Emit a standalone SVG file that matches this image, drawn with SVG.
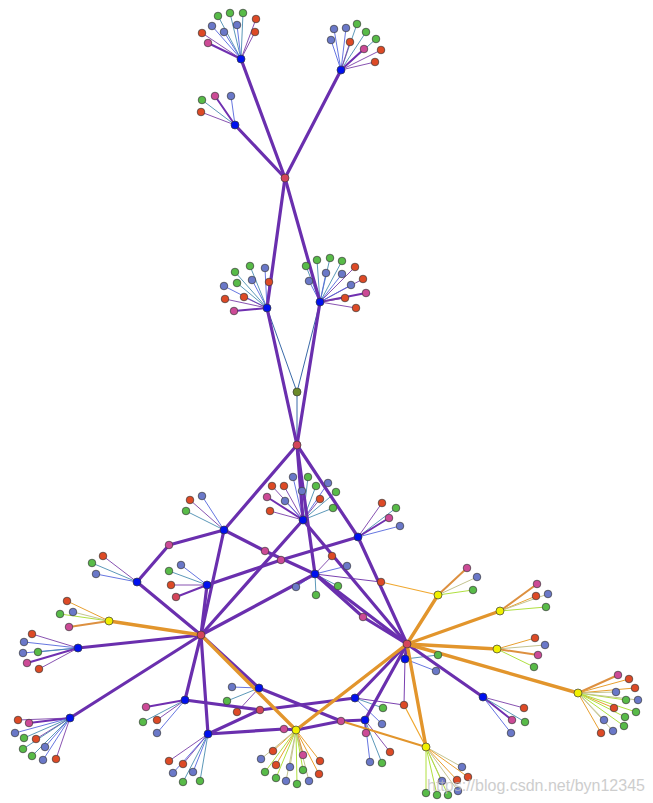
<svg xmlns="http://www.w3.org/2000/svg" width="653" height="803" viewBox="0 0 653 803">
<style>
line{fill:none;stroke-linecap:round}
.P{stroke:#6a2fae;stroke-width:3.2}
.O{stroke:#e2952c;stroke-width:3.4}
.lb{stroke:#5566dd;stroke-width:0.9}
.lg{stroke:#4a8cb0;stroke-width:0.9}
.lr{stroke:#7a3fa8;stroke-width:0.9}
.lm{stroke:#7030b0;stroke-width:2}
.yr{stroke:#e8a030;stroke-width:1}
.yg{stroke:#b0e040;stroke-width:1}
.yb{stroke:#c4c490;stroke-width:1}
.ym{stroke:#dd9040;stroke-width:2}
.tb{stroke:#3a6aa8;stroke-width:1}
.tp{stroke:#7a40b0;stroke-width:1}
.to{stroke:#f0a830;stroke-width:1.2}
.mo{stroke:#e2952c;stroke-width:2}
circle{stroke:#3a3a3a;stroke-width:0.7}
.nb{fill:#6a78c8}.ng{fill:#58bb48}.nr{fill:#dd4a26}.nm{fill:#cc4a96}
.nh{fill:#0010ee}.nc{fill:#d4455a}.ny{fill:#f0f000}.no{fill:#6a8a2a}
.wm{font-family:"Liberation Sans",Arial,sans-serif;font-size:16px;fill:#bdbdbd;opacity:0.75}
</style>
<g id="connectors">
<!-- thin links -->
<line class="tb" x1="267" y1="308" x2="297" y2="392"/>
<line class="tb" x1="320" y1="302" x2="297" y2="392"/>
<line class="tb" x1="297" y1="392" x2="297" y2="445"/>
<line class="tp" x1="315" y1="574" x2="381" y2="582"/>
<line class="to" x1="381" y1="582" x2="438" y2="595"/>
<line class="tp" x1="405" y1="659" x2="404" y2="705"/>
<line class="tp" x1="355" y1="698" x2="404" y2="705"/>
<line class="to" x1="404" y1="705" x2="426" y2="747"/>
<!-- leaf edges -->
<g>
<line class="lg" x1="241" y1="59" x2="218" y2="16"/><line class="lg" x1="241" y1="59" x2="230" y2="13"/><line class="lg" x1="241" y1="59" x2="243" y2="13"/><line class="lr" x1="241" y1="59" x2="256" y2="19"/><line class="lb" x1="241" y1="59" x2="212" y2="26"/><line class="lb" x1="241" y1="59" x2="224" y2="32"/><line class="lb" x1="241" y1="59" x2="237" y2="25"/><line class="lr" x1="241" y1="59" x2="255" y2="32"/><line class="lr" x1="241" y1="59" x2="202" y2="33"/><line class="lm" x1="241" y1="59" x2="208" y2="43"/>
<line class="lb" x1="341" y1="70" x2="334" y2="29"/><line class="lb" x1="341" y1="70" x2="346" y2="28"/><line class="lg" x1="341" y1="70" x2="357" y2="24"/><line class="lg" x1="341" y1="70" x2="366" y2="32"/><line class="lg" x1="341" y1="70" x2="376" y2="39"/><line class="lb" x1="341" y1="70" x2="331" y2="40"/><line class="lr" x1="341" y1="70" x2="350" y2="42"/><line class="lm" x1="341" y1="70" x2="364" y2="49"/><line class="lr" x1="341" y1="70" x2="381" y2="50"/><line class="lr" x1="341" y1="70" x2="375" y2="62"/>
<line class="lg" x1="235" y1="125" x2="202" y2="100"/><line class="lm" x1="235" y1="125" x2="215" y2="96"/><line class="lb" x1="235" y1="125" x2="231" y2="96"/><line class="lr" x1="235" y1="125" x2="201" y2="112"/>
<line class="lg" x1="267" y1="308" x2="235" y2="272"/><line class="lg" x1="267" y1="308" x2="250" y2="266"/><line class="lb" x1="267" y1="308" x2="265" y2="268"/><line class="lb" x1="267" y1="308" x2="224" y2="286"/><line class="lg" x1="267" y1="308" x2="237" y2="283"/><line class="lb" x1="267" y1="308" x2="252" y2="280"/><line class="lr" x1="267" y1="308" x2="269" y2="282"/><line class="lr" x1="267" y1="308" x2="225" y2="299"/><line class="lr" x1="267" y1="308" x2="244" y2="297"/><line class="lm" x1="267" y1="308" x2="234" y2="311"/>
<line class="lg" x1="320" y1="302" x2="306" y2="266"/><line class="lg" x1="320" y1="302" x2="317" y2="260"/><line class="lg" x1="320" y1="302" x2="330" y2="258"/><line class="lg" x1="320" y1="302" x2="342" y2="261"/><line class="lr" x1="320" y1="302" x2="355" y2="267"/><line class="lb" x1="320" y1="302" x2="309" y2="281"/><line class="lb" x1="320" y1="302" x2="326" y2="273"/><line class="lb" x1="320" y1="302" x2="342" y2="274"/><line class="lr" x1="320" y1="302" x2="363" y2="279"/><line class="lb" x1="320" y1="302" x2="351" y2="285"/><line class="lm" x1="320" y1="302" x2="366" y2="293"/><line class="lr" x1="320" y1="302" x2="345" y2="298"/><line class="lr" x1="320" y1="302" x2="356" y2="308"/>
<line class="lr" x1="224" y1="530" x2="190" y2="500"/><line class="lb" x1="224" y1="530" x2="202" y2="496"/><line class="lg" x1="224" y1="530" x2="186" y2="511"/>
<line class="lb" x1="303" y1="520" x2="293" y2="477"/><line class="lg" x1="303" y1="520" x2="308" y2="477"/><line class="lg" x1="303" y1="520" x2="316" y2="486"/><line class="lb" x1="303" y1="520" x2="328" y2="483"/><line class="lr" x1="303" y1="520" x2="272" y2="486"/><line class="lr" x1="303" y1="520" x2="284" y2="486"/><line class="lm" x1="303" y1="520" x2="267" y2="497"/><line class="lb" x1="303" y1="520" x2="285" y2="501"/><line class="lb" x1="303" y1="520" x2="302" y2="491"/><line class="lr" x1="303" y1="520" x2="320" y2="499"/><line class="lg" x1="303" y1="520" x2="336" y2="492"/><line class="lr" x1="303" y1="520" x2="270" y2="511"/><line class="lg" x1="303" y1="520" x2="333" y2="508"/>
<line class="lr" x1="358" y1="537" x2="382" y2="503"/><line class="lg" x1="358" y1="537" x2="396" y2="508"/><line class="lm" x1="358" y1="537" x2="389" y2="518"/><line class="lb" x1="358" y1="537" x2="400" y2="526"/>
<line class="lb" x1="207" y1="585" x2="181" y2="565"/><line class="lg" x1="207" y1="585" x2="169" y2="571"/><line class="lr" x1="207" y1="585" x2="171" y2="585"/><line class="lm" x1="207" y1="585" x2="176" y2="597"/>
<line class="lr" x1="315" y1="574" x2="332" y2="556"/><line class="lb" x1="315" y1="574" x2="347" y2="566"/><line class="lb" x1="315" y1="574" x2="296" y2="587"/><line class="lg" x1="315" y1="574" x2="338" y2="586"/><line class="lg" x1="315" y1="574" x2="316" y2="595"/>
<line class="lr" x1="137" y1="582" x2="103" y2="556"/><line class="lg" x1="137" y1="582" x2="92" y2="563"/><line class="lb" x1="137" y1="582" x2="96" y2="574"/>
<line class="yr" x1="109" y1="621" x2="67" y2="601"/><line class="yg" x1="109" y1="621" x2="60" y2="614"/><line class="yb" x1="109" y1="621" x2="73" y2="612"/><line class="ym" x1="109" y1="621" x2="69" y2="627"/>
<line class="lr" x1="78" y1="648" x2="32" y2="634"/><line class="lb" x1="78" y1="648" x2="24" y2="642"/><line class="lb" x1="78" y1="648" x2="23" y2="653"/><line class="lg" x1="78" y1="648" x2="38" y2="652"/><line class="lm" x1="78" y1="648" x2="27" y2="663"/><line class="lr" x1="78" y1="648" x2="39" y2="669"/>
<line class="ym" x1="438" y1="595" x2="467" y2="568"/><line class="yb" x1="438" y1="595" x2="477" y2="577"/><line class="yg" x1="438" y1="595" x2="473" y2="590"/>
<line class="ym" x1="500" y1="611" x2="537" y2="584"/><line class="yr" x1="500" y1="611" x2="536" y2="596"/><line class="yb" x1="500" y1="611" x2="548" y2="594"/><line class="yg" x1="500" y1="611" x2="546" y2="607"/>
<line class="yr" x1="497" y1="649" x2="535" y2="638"/><line class="yb" x1="497" y1="649" x2="545" y2="645"/><line class="ym" x1="497" y1="649" x2="538" y2="655"/><line class="yg" x1="497" y1="649" x2="534" y2="667"/>
<line class="lg" x1="405" y1="659" x2="438" y2="655"/><line class="lb" x1="405" y1="659" x2="436" y2="671"/>
<line class="ym" x1="578" y1="693" x2="618" y2="675"/><line class="yr" x1="578" y1="693" x2="629" y2="679"/><line class="yr" x1="578" y1="693" x2="635" y2="688"/><line class="yb" x1="578" y1="693" x2="616" y2="692"/><line class="yg" x1="578" y1="693" x2="626" y2="700"/><line class="yb" x1="578" y1="693" x2="638" y2="700"/><line class="yr" x1="578" y1="693" x2="614" y2="708"/><line class="yg" x1="578" y1="693" x2="636" y2="712"/><line class="yg" x1="578" y1="693" x2="625" y2="717"/><line class="yb" x1="578" y1="693" x2="604" y2="720"/><line class="yb" x1="578" y1="693" x2="613" y2="731"/><line class="yg" x1="578" y1="693" x2="624" y2="726"/><line class="yr" x1="578" y1="693" x2="601" y2="733"/>
<line class="lr" x1="483" y1="697" x2="524" y2="708"/><line class="lm" x1="483" y1="697" x2="512" y2="720"/><line class="lg" x1="483" y1="697" x2="525" y2="722"/><line class="lb" x1="483" y1="697" x2="511" y2="733"/>
<line class="lg" x1="355" y1="698" x2="383" y2="708"/><line class="lb" x1="355" y1="698" x2="382" y2="724"/>
<line class="lm" x1="365" y1="720" x2="366" y2="733"/><line class="lr" x1="365" y1="720" x2="390" y2="752"/><line class="lb" x1="365" y1="720" x2="370" y2="762"/><line class="lg" x1="365" y1="720" x2="382" y2="763"/>
<line class="yb" x1="426" y1="747" x2="462" y2="767"/><line class="yr" x1="426" y1="747" x2="468" y2="777"/><line class="yr" x1="426" y1="747" x2="457" y2="780"/><line class="yb" x1="426" y1="747" x2="442" y2="781"/><line class="yb" x1="426" y1="747" x2="458" y2="791"/><line class="yg" x1="426" y1="747" x2="426" y2="793"/><line class="yg" x1="426" y1="747" x2="437" y2="795"/><line class="yg" x1="426" y1="747" x2="448" y2="795"/>
<line class="lr" x1="70" y1="718" x2="18" y2="720"/><line class="lm" x1="70" y1="718" x2="29" y2="723"/><line class="lb" x1="70" y1="718" x2="15" y2="733"/><line class="lg" x1="70" y1="718" x2="24" y2="738"/><line class="lr" x1="70" y1="718" x2="36" y2="739"/><line class="lg" x1="70" y1="718" x2="23" y2="749"/><line class="lb" x1="70" y1="718" x2="45" y2="747"/><line class="lg" x1="70" y1="718" x2="32" y2="756"/><line class="lb" x1="70" y1="718" x2="43" y2="760"/><line class="lr" x1="70" y1="718" x2="56" y2="759"/>
<line class="lm" x1="185" y1="700" x2="146" y2="707"/><line class="lg" x1="185" y1="700" x2="143" y2="722"/><line class="lr" x1="185" y1="700" x2="157" y2="720"/><line class="lb" x1="185" y1="700" x2="157" y2="733"/>
<line class="lr" x1="208" y1="734" x2="169" y2="761"/><line class="lr" x1="208" y1="734" x2="183" y2="764"/><line class="lb" x1="208" y1="734" x2="173" y2="773"/><line class="lb" x1="208" y1="734" x2="193" y2="772"/><line class="lg" x1="208" y1="734" x2="183" y2="782"/><line class="lg" x1="208" y1="734" x2="200" y2="781"/>
<line class="lb" x1="259" y1="688" x2="232" y2="687"/><line class="lg" x1="259" y1="688" x2="227" y2="701"/><line class="lr" x1="259" y1="688" x2="237" y2="712"/>
<line class="yr" x1="296" y1="730" x2="273" y2="751"/><line class="ym" x1="296" y1="730" x2="303" y2="755"/><line class="yr" x1="296" y1="730" x2="320" y2="761"/><line class="yb" x1="296" y1="730" x2="261" y2="759"/><line class="yr" x1="296" y1="730" x2="276" y2="765"/><line class="yb" x1="296" y1="730" x2="290" y2="767"/><line class="yg" x1="296" y1="730" x2="303" y2="770"/><line class="yr" x1="296" y1="730" x2="319" y2="774"/><line class="yg" x1="296" y1="730" x2="265" y2="772"/><line class="yg" x1="296" y1="730" x2="276" y2="778"/><line class="yb" x1="296" y1="730" x2="286" y2="781"/><line class="yg" x1="296" y1="730" x2="297" y2="784"/><line class="yb" x1="296" y1="730" x2="309" y2="781"/>
</g>
<!-- thick purple -->
<line class="P" x1="285" y1="178" x2="241" y2="59"/>
<line class="P" x1="285" y1="178" x2="341" y2="70"/>
<line class="P" x1="285" y1="178" x2="235" y2="125"/>
<line class="P" x1="285" y1="178" x2="267" y2="308"/>
<line class="P" x1="285" y1="178" x2="320" y2="302"/>
<line class="P" x1="267" y1="308" x2="297" y2="445"/>
<line class="P" x1="320" y1="302" x2="297" y2="445"/>
<line class="P" x1="297" y1="445" x2="224" y2="530"/>
<line class="P" x1="297" y1="445" x2="303" y2="520"/>
<line class="P" x1="297" y1="445" x2="315" y2="574"/>
<line class="P" x1="297" y1="445" x2="358" y2="537"/>
<line class="P" x1="224" y1="530" x2="169" y2="545"/>
<line class="P" x1="169" y1="545" x2="137" y2="582"/>
<line class="P" x1="224" y1="530" x2="265" y2="551"/>
<line class="P" x1="265" y1="551" x2="315" y2="574"/>
<line class="P" x1="207" y1="585" x2="281" y2="560"/>
<line class="P" x1="281" y1="560" x2="358" y2="537"/>
<line class="P" x1="224" y1="530" x2="201" y2="635"/>
<line class="P" x1="207" y1="585" x2="201" y2="635"/>
<line class="P" x1="303" y1="520" x2="201" y2="635"/>
<line class="P" x1="315" y1="574" x2="201" y2="635"/>
<line class="P" x1="303" y1="520" x2="407" y2="644"/>
<line class="P" x1="358" y1="537" x2="407" y2="644"/>
<line class="P" x1="315" y1="574" x2="407" y2="644"/>
<line class="P" x1="315" y1="574" x2="363" y2="617"/>
<line class="P" x1="363" y1="617" x2="407" y2="644"/>
<line class="P" x1="137" y1="582" x2="201" y2="635"/>
<line class="P" x1="78" y1="648" x2="201" y2="635"/>
<line class="P" x1="70" y1="718" x2="201" y2="635"/>
<line class="P" x1="185" y1="700" x2="201" y2="635"/>
<line class="P" x1="208" y1="734" x2="201" y2="635"/>
<line class="P" x1="259" y1="688" x2="201" y2="635"/>
<line class="P" x1="185" y1="700" x2="260" y2="710"/>
<line class="P" x1="208" y1="734" x2="260" y2="710"/>
<line class="P" x1="260" y1="710" x2="355" y2="698"/>
<line class="P" x1="208" y1="734" x2="284" y2="729"/>
<line class="P" x1="284" y1="729" x2="296" y2="730"/>
<line class="P" x1="296" y1="730" x2="341" y2="721"/>
<line class="P" x1="259" y1="688" x2="341" y2="721"/>
<line class="P" x1="341" y1="721" x2="365" y2="720"/>
<line class="P" x1="407" y1="644" x2="355" y2="698"/>
<line class="P" x1="407" y1="644" x2="365" y2="720"/>
<line class="P" x1="407" y1="644" x2="483" y2="697"/>
<line class="P" x1="407" y1="644" x2="405" y2="659"/>
<!-- orange -->
<line class="mo" x1="341" y1="721" x2="426" y2="747"/>
<line class="O" x1="201" y1="635" x2="109" y2="621"/>
<line class="O" x1="201" y1="635" x2="296" y2="730"/>
<line class="O" x1="407" y1="644" x2="296" y2="730"/>
<line class="O" x1="407" y1="644" x2="438" y2="595"/>
<line class="O" x1="407" y1="644" x2="500" y2="611"/>
<line class="O" x1="407" y1="644" x2="497" y2="649"/>
<line class="O" x1="407" y1="644" x2="578" y2="693"/>
<line class="O" x1="407" y1="644" x2="426" y2="747"/>
</g>
<!-- nodes: hubs -->
<g id="R1"><circle class="nc" cx="285" cy="178" r="4"/></g>
<g id="R2"><circle class="nc" cx="297" cy="445" r="4"/></g>
<g id="R3"><circle class="nc" cx="201" cy="635" r="4"/></g>
<g id="R4"><circle class="nc" cx="407" cy="644" r="4"/></g>
<g id="O1"><circle class="no" cx="297" cy="392" r="4"/></g>
<g id="hA"><circle class="nh" cx="241" cy="59" r="4"/></g>
<g id="hB"><circle class="nh" cx="341" cy="70" r="4"/></g>
<g id="hC"><circle class="nh" cx="235" cy="125" r="4"/></g>
<g id="hD"><circle class="nh" cx="267" cy="308" r="4"/></g>
<g id="hE"><circle class="nh" cx="320" cy="302" r="4"/></g>
<g id="hF"><circle class="nh" cx="224" cy="530" r="4"/></g>
<g id="hG"><circle class="nh" cx="303" cy="520" r="4"/></g>
<g id="hH"><circle class="nh" cx="358" cy="537" r="4"/></g>
<g id="hI"><circle class="nh" cx="207" cy="585" r="4"/></g>
<g id="hJ"><circle class="nh" cx="315" cy="574" r="4"/></g>
<g id="hK"><circle class="nh" cx="137" cy="582" r="4"/></g>
<g id="hL"><circle class="nh" cx="78" cy="648" r="4"/></g>
<g id="hM"><circle class="nh" cx="405" cy="659" r="4"/></g>
<g id="hN"><circle class="nh" cx="483" cy="697" r="4"/></g>
<g id="hO"><circle class="nh" cx="355" cy="698" r="4"/></g>
<g id="hP"><circle class="nh" cx="365" cy="720" r="4"/></g>
<g id="hU"><circle class="nh" cx="70" cy="718" r="4"/></g>
<g id="hQ"><circle class="nh" cx="185" cy="700" r="4"/></g>
<g id="hS"><circle class="nh" cx="208" cy="734" r="4"/></g>
<g id="hT"><circle class="nh" cx="259" cy="688" r="4"/></g>
<g id="Y1"><circle class="ny" cx="109" cy="621" r="4"/></g>
<g id="Y2"><circle class="ny" cx="438" cy="595" r="4"/></g>
<g id="Y3"><circle class="ny" cx="500" cy="611" r="4"/></g>
<g id="Y4"><circle class="ny" cx="497" cy="649" r="4"/></g>
<g id="Y5"><circle class="ny" cx="578" cy="693" r="4"/></g>
<g id="Y6"><circle class="ny" cx="426" cy="747" r="4"/></g>
<g id="Y7"><circle class="ny" cx="296" cy="730" r="4"/></g>
<g id="m1"><circle class="nm" cx="169" cy="545" r="3.8"/></g>
<g id="m2"><circle class="nm" cx="265" cy="551" r="3.8"/></g>
<g id="m3"><circle class="nm" cx="281" cy="560" r="3.8"/></g>
<g id="m4"><circle class="nm" cx="363" cy="617" r="3.8"/></g>
<g id="m5"><circle class="nm" cx="341" cy="721" r="3.8"/></g>
<g id="m6"><circle class="nm" cx="284" cy="729" r="3.8"/></g>
<g id="c2"><circle class="nc" cx="260" cy="710" r="3.8"/></g>
<g id="r5"><circle class="nr" cx="381" cy="582" r="3.8"/></g>
<g id="r6"><circle class="nr" cx="404" cy="705" r="3.8"/></g>
<!-- leaves -->
<g id="leaves">
<g id="a1"><circle class="ng" cx="218" cy="16" r="3.8"/></g><g id="a2"><circle class="ng" cx="230" cy="13" r="3.8"/></g><g id="a3"><circle class="ng" cx="243" cy="13" r="3.8"/></g><g id="a4"><circle class="nr" cx="256" cy="19" r="3.8"/></g><g id="a5"><circle class="nb" cx="212" cy="26" r="3.8"/></g><g id="a6"><circle class="nb" cx="224" cy="32" r="3.8"/></g><g id="a7"><circle class="nb" cx="237" cy="25" r="3.8"/></g><g id="a8"><circle class="nr" cx="255" cy="32" r="3.8"/></g><g id="a9"><circle class="nr" cx="202" cy="33" r="3.8"/></g><g id="a10"><circle class="nm" cx="208" cy="43" r="3.8"/></g>
<g id="b1"><circle class="nb" cx="334" cy="29" r="3.8"/></g><g id="b2"><circle class="nb" cx="346" cy="28" r="3.8"/></g><g id="b3"><circle class="ng" cx="357" cy="24" r="3.8"/></g><g id="b4"><circle class="ng" cx="366" cy="32" r="3.8"/></g><g id="b5"><circle class="ng" cx="376" cy="39" r="3.8"/></g><g id="b6"><circle class="nb" cx="331" cy="40" r="3.8"/></g><g id="b7"><circle class="nr" cx="350" cy="42" r="3.8"/></g><g id="b8"><circle class="nm" cx="364" cy="49" r="3.8"/></g><g id="b9"><circle class="nr" cx="381" cy="50" r="3.8"/></g><g id="b10"><circle class="nr" cx="375" cy="62" r="3.8"/></g>
<g id="c1l"><circle class="ng" cx="202" cy="100" r="3.8"/></g><g id="c2l"><circle class="nm" cx="215" cy="96" r="3.8"/></g><g id="c3l"><circle class="nb" cx="231" cy="96" r="3.8"/></g><g id="c4l"><circle class="nr" cx="201" cy="112" r="3.8"/></g>
<g id="d1"><circle class="ng" cx="235" cy="272" r="3.8"/></g><g id="d2"><circle class="ng" cx="250" cy="266" r="3.8"/></g><g id="d3"><circle class="nb" cx="265" cy="268" r="3.8"/></g><g id="d4"><circle class="nb" cx="224" cy="286" r="3.8"/></g><g id="d5"><circle class="ng" cx="237" cy="283" r="3.8"/></g><g id="d6"><circle class="nb" cx="252" cy="280" r="3.8"/></g><g id="d7"><circle class="nr" cx="269" cy="282" r="3.8"/></g><g id="d8"><circle class="nr" cx="225" cy="299" r="3.8"/></g><g id="d9"><circle class="nr" cx="244" cy="297" r="3.8"/></g><g id="d10"><circle class="nm" cx="234" cy="311" r="3.8"/></g>
<g id="e1"><circle class="ng" cx="306" cy="266" r="3.8"/></g><g id="e2"><circle class="ng" cx="317" cy="260" r="3.8"/></g><g id="e3"><circle class="ng" cx="330" cy="258" r="3.8"/></g><g id="e4"><circle class="ng" cx="342" cy="261" r="3.8"/></g><g id="e5"><circle class="nr" cx="355" cy="267" r="3.8"/></g><g id="e6"><circle class="nb" cx="309" cy="281" r="3.8"/></g><g id="e7"><circle class="nb" cx="326" cy="273" r="3.8"/></g><g id="e8"><circle class="nb" cx="342" cy="274" r="3.8"/></g><g id="e9"><circle class="nr" cx="363" cy="279" r="3.8"/></g><g id="e10"><circle class="nb" cx="351" cy="285" r="3.8"/></g><g id="e11"><circle class="nm" cx="366" cy="293" r="3.8"/></g><g id="e12"><circle class="nr" cx="345" cy="298" r="3.8"/></g><g id="e13"><circle class="nr" cx="356" cy="308" r="3.8"/></g>
<g id="f1"><circle class="nr" cx="190" cy="500" r="3.8"/></g><g id="f2"><circle class="nb" cx="202" cy="496" r="3.8"/></g><g id="f3"><circle class="ng" cx="186" cy="511" r="3.8"/></g>
<g id="g1"><circle class="nb" cx="293" cy="477" r="3.8"/></g><g id="g2"><circle class="ng" cx="308" cy="477" r="3.8"/></g><g id="g3"><circle class="ng" cx="316" cy="486" r="3.8"/></g><g id="g4"><circle class="nb" cx="328" cy="483" r="3.8"/></g><g id="g5"><circle class="nr" cx="272" cy="486" r="3.8"/></g><g id="g6"><circle class="nr" cx="284" cy="486" r="3.8"/></g><g id="g7"><circle class="nm" cx="267" cy="497" r="3.8"/></g><g id="g8"><circle class="nb" cx="285" cy="501" r="3.8"/></g><g id="g9"><circle class="nb" cx="302" cy="491" r="3.8"/></g><g id="g10"><circle class="nr" cx="320" cy="499" r="3.8"/></g><g id="g11"><circle class="ng" cx="336" cy="492" r="3.8"/></g><g id="g12"><circle class="nr" cx="270" cy="511" r="3.8"/></g><g id="g13"><circle class="ng" cx="333" cy="508" r="3.8"/></g>
<g id="h1"><circle class="nr" cx="382" cy="503" r="3.8"/></g><g id="h2"><circle class="ng" cx="396" cy="508" r="3.8"/></g><g id="h3"><circle class="nm" cx="389" cy="518" r="3.8"/></g><g id="h4"><circle class="nb" cx="400" cy="526" r="3.8"/></g>
<g id="i1"><circle class="nb" cx="181" cy="565" r="3.8"/></g><g id="i2"><circle class="ng" cx="169" cy="571" r="3.8"/></g><g id="i3"><circle class="nr" cx="171" cy="585" r="3.8"/></g><g id="i4"><circle class="nc" cx="176" cy="597" r="3.8"/></g>
<g id="j1"><circle class="nr" cx="332" cy="556" r="3.8"/></g><g id="j2"><circle class="nb" cx="347" cy="566" r="3.8"/></g><g id="j3"><circle class="nb" cx="296" cy="587" r="3.8"/></g><g id="j4"><circle class="ng" cx="338" cy="586" r="3.8"/></g><g id="j5"><circle class="ng" cx="316" cy="595" r="3.8"/></g>
<g id="k1"><circle class="nr" cx="103" cy="556" r="3.8"/></g><g id="k2"><circle class="ng" cx="92" cy="563" r="3.8"/></g><g id="k3"><circle class="nb" cx="96" cy="574" r="3.8"/></g>
<g id="y1a"><circle class="nr" cx="67" cy="601" r="3.8"/></g><g id="y1b"><circle class="ng" cx="60" cy="614" r="3.8"/></g><g id="y1c"><circle class="nb" cx="73" cy="612" r="3.8"/></g><g id="y1d"><circle class="nm" cx="69" cy="627" r="3.8"/></g>
<g id="l1"><circle class="nr" cx="32" cy="634" r="3.8"/></g><g id="l2"><circle class="nb" cx="24" cy="642" r="3.8"/></g><g id="l3"><circle class="nb" cx="23" cy="653" r="3.8"/></g><g id="l4"><circle class="ng" cx="38" cy="652" r="3.8"/></g><g id="l5"><circle class="nm" cx="27" cy="663" r="3.8"/></g><g id="l6"><circle class="nr" cx="39" cy="669" r="3.8"/></g>
<g id="y2a"><circle class="nm" cx="467" cy="568" r="3.8"/></g><g id="y2b"><circle class="nb" cx="477" cy="577" r="3.8"/></g><g id="y2c"><circle class="ng" cx="473" cy="590" r="3.8"/></g>
<g id="y3a"><circle class="nm" cx="537" cy="584" r="3.8"/></g><g id="y3b"><circle class="nr" cx="536" cy="596" r="3.8"/></g><g id="y3c"><circle class="nb" cx="548" cy="594" r="3.8"/></g><g id="y3d"><circle class="ng" cx="546" cy="607" r="3.8"/></g>
<g id="y4a"><circle class="nr" cx="535" cy="638" r="3.8"/></g><g id="y4b"><circle class="nb" cx="545" cy="645" r="3.8"/></g><g id="y4c"><circle class="nm" cx="538" cy="655" r="3.8"/></g><g id="y4d"><circle class="ng" cx="534" cy="667" r="3.8"/></g>
<g id="mm1"><circle class="ng" cx="438" cy="655" r="3.8"/></g><g id="mm2"><circle class="nb" cx="436" cy="671" r="3.8"/></g>
<g id="y5a"><circle class="nm" cx="618" cy="675" r="3.8"/></g><g id="y5b"><circle class="nr" cx="629" cy="679" r="3.8"/></g><g id="y5c"><circle class="nr" cx="635" cy="688" r="3.8"/></g><g id="y5d"><circle class="nb" cx="616" cy="692" r="3.8"/></g><g id="y5e"><circle class="ng" cx="626" cy="700" r="3.8"/></g><g id="y5f"><circle class="nb" cx="638" cy="700" r="3.8"/></g><g id="y5g"><circle class="nr" cx="614" cy="708" r="3.8"/></g><g id="y5h"><circle class="ng" cx="636" cy="712" r="3.8"/></g><g id="y5i"><circle class="ng" cx="625" cy="717" r="3.8"/></g><g id="y5j"><circle class="nb" cx="604" cy="720" r="3.8"/></g><g id="y5k"><circle class="nb" cx="613" cy="731" r="3.8"/></g><g id="y5l"><circle class="ng" cx="624" cy="726" r="3.8"/></g><g id="y5m"><circle class="nr" cx="601" cy="733" r="3.8"/></g>
<g id="n1"><circle class="nr" cx="524" cy="708" r="3.8"/></g><g id="n2"><circle class="nm" cx="512" cy="720" r="3.8"/></g><g id="n3"><circle class="ng" cx="525" cy="722" r="3.8"/></g><g id="n4"><circle class="nb" cx="511" cy="733" r="3.8"/></g>
<g id="o1"><circle class="ng" cx="383" cy="708" r="3.8"/></g><g id="o2"><circle class="nb" cx="382" cy="724" r="3.8"/></g>
<g id="p1"><circle class="nm" cx="366" cy="733" r="3.8"/></g><g id="p2"><circle class="nr" cx="390" cy="752" r="3.8"/></g><g id="p3"><circle class="nb" cx="370" cy="762" r="3.8"/></g><g id="p4"><circle class="ng" cx="382" cy="763" r="3.8"/></g>
<g id="y6a"><circle class="nb" cx="462" cy="767" r="3.8"/></g><g id="y6b"><circle class="nr" cx="468" cy="777" r="3.8"/></g><g id="y6c"><circle class="nr" cx="457" cy="780" r="3.8"/></g><g id="y6d"><circle class="nb" cx="442" cy="781" r="3.8"/></g><g id="y6e"><circle class="nb" cx="458" cy="791" r="3.8"/></g><g id="y6f"><circle class="ng" cx="426" cy="793" r="3.8"/></g><g id="y6g"><circle class="ng" cx="437" cy="795" r="3.8"/></g><g id="y6h"><circle class="ng" cx="448" cy="795" r="3.8"/></g>
<g id="u1"><circle class="nr" cx="18" cy="720" r="3.8"/></g><g id="u2"><circle class="nm" cx="29" cy="723" r="3.8"/></g><g id="u3"><circle class="nb" cx="15" cy="733" r="3.8"/></g><g id="u4"><circle class="ng" cx="24" cy="738" r="3.8"/></g><g id="u5"><circle class="nr" cx="36" cy="739" r="3.8"/></g><g id="u6"><circle class="ng" cx="23" cy="749" r="3.8"/></g><g id="u7"><circle class="nb" cx="45" cy="747" r="3.8"/></g><g id="u8"><circle class="ng" cx="32" cy="756" r="3.8"/></g><g id="u9"><circle class="nb" cx="43" cy="760" r="3.8"/></g><g id="u10"><circle class="nr" cx="56" cy="759" r="3.8"/></g>
<g id="q1"><circle class="nm" cx="146" cy="707" r="3.8"/></g><g id="q2"><circle class="ng" cx="143" cy="722" r="3.8"/></g><g id="q3"><circle class="nr" cx="157" cy="720" r="3.8"/></g><g id="q4"><circle class="nb" cx="157" cy="733" r="3.8"/></g>
<g id="s1"><circle class="nr" cx="169" cy="761" r="3.8"/></g><g id="s2"><circle class="nr" cx="183" cy="764" r="3.8"/></g><g id="s3"><circle class="nb" cx="173" cy="773" r="3.8"/></g><g id="s4"><circle class="nb" cx="193" cy="772" r="3.8"/></g><g id="s5"><circle class="ng" cx="183" cy="782" r="3.8"/></g><g id="s6"><circle class="ng" cx="200" cy="781" r="3.8"/></g>
<g id="t1"><circle class="nb" cx="232" cy="687" r="3.8"/></g><g id="t2"><circle class="ng" cx="227" cy="701" r="3.8"/></g><g id="t3"><circle class="nr" cx="237" cy="712" r="3.8"/></g>
<g id="y7a"><circle class="nr" cx="273" cy="751" r="3.8"/></g><g id="y7b"><circle class="nm" cx="303" cy="755" r="3.8"/></g><g id="y7c"><circle class="nr" cx="320" cy="761" r="3.8"/></g><g id="y7d"><circle class="nb" cx="261" cy="759" r="3.8"/></g><g id="y7e"><circle class="nr" cx="276" cy="765" r="3.8"/></g><g id="y7f"><circle class="nb" cx="290" cy="767" r="3.8"/></g><g id="y7g"><circle class="ng" cx="303" cy="770" r="3.8"/></g><g id="y7h"><circle class="nr" cx="319" cy="774" r="3.8"/></g><g id="y7i"><circle class="ng" cx="265" cy="772" r="3.8"/></g><g id="y7j"><circle class="ng" cx="276" cy="778" r="3.8"/></g><g id="y7k"><circle class="nb" cx="286" cy="781" r="3.8"/></g><g id="y7l"><circle class="ng" cx="297" cy="784" r="3.8"/></g><g id="y7m"><circle class="nb" cx="309" cy="781" r="3.8"/></g>
</g>
<text class="wm" x="427" y="791">https://blog.csdn.net/byn12345</text>
</svg>
